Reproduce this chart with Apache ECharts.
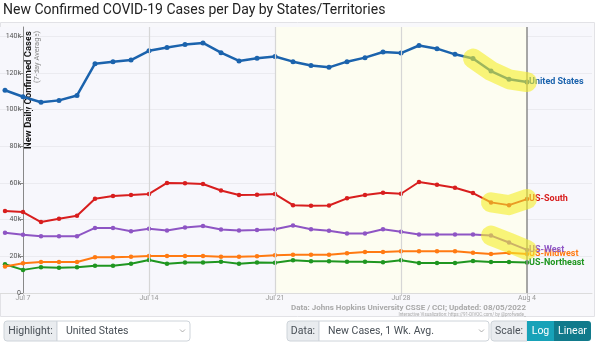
<!DOCTYPE html>
<html><head><meta charset="utf-8">
<script src="https://cdn.jsdelivr.net/npm/echarts@6/dist/echarts.min.js"></script>
<style>html,body{margin:0;padding:0;background:#fff;}#c{width:600px;height:342px;}</style>
</head><body><div id="c"></div>
<script>
// ---- data ----
const dates = ['Jul 6','Jul 7','Jul 8','Jul 9','Jul 10','Jul 11','Jul 12','Jul 13','Jul 14','Jul 15','Jul 16','Jul 17','Jul 18','Jul 19','Jul 20','Jul 21','Jul 22','Jul 23','Jul 24','Jul 25','Jul 26','Jul 27','Jul 28','Jul 29','Jul 30','Jul 31','Aug 1','Aug 2','Aug 3','Aug 4'];
const tickDays = ['Jul 7','Jul 14','Jul 21','Jul 28','Aug 4'];
const yTicks = [0,20000,40000,60000,80000,100000,120000,140000];
const unitedStates = [110500,107000,104000,105000,107700,125000,126000,127000,132000,133800,135400,136300,131000,126500,128000,128900,126100,124000,123000,126100,128300,131400,130800,134900,133200,130100,127800,121000,116500,115000];
const usSouth = [44700,44100,38700,40500,42100,51400,52900,53400,54000,60000,59800,59400,55900,53400,53600,53900,47900,47600,47700,51600,53400,54700,54100,60500,59000,57400,54500,49400,47900,51200];
const usWest = [32800,31700,31000,31000,31000,35500,35500,33700,35000,34100,35700,36500,34600,34100,34400,34800,36800,34800,33900,32400,32400,34800,33400,31900,31900,31900,31900,31300,27500,23500];
const usMidwest = [14400,16200,16900,16900,16900,19500,19500,19700,20200,20200,20200,20200,19800,19700,20000,20600,20900,20900,20900,21700,22400,22400,22800,22800,22800,22800,22000,21300,21900,21200];
const usNortheast = [15700,12600,14100,13700,14100,14900,14800,15900,18000,15900,16600,16600,17100,15900,16600,16500,17900,17300,17300,17100,17100,16800,17900,16400,16400,16400,17500,16900,16900,16600];
const highlightFrom = {'United States': 26, 'US-South': 27, 'US-West': 27};
const seriesDefs = [
  {name:'United States', values: unitedStates, color:'#1b63ad', width:2.5, sym:5},
  {name:'US-South', values: usSouth, color:'#d81e1e', width:2, sym:4.5},
  {name:'US-West', values: usWest, color:'#8e55c4', width:2, sym:4.5},
  {name:'US-Midwest', values: usMidwest, color:'#ff7a12', width:2, sym:4.5},
  {name:'US-Northeast', values: usNortheast, color:'#1f9620', width:2, sym:4.5}
];

const chart = echarts.init(document.getElementById('c'), null, {renderer:'canvas'});
const FONT = 'Roboto, "Liberation Sans", sans-serif';

const series = [];
seriesDefs.slice().reverse().forEach(d => {
  series.push({
    name: d.name, type:'line', z: d.name==='United States'?4:3,
    data: d.values.map((v,i)=>[i,v]),
    symbol:'circle', symbolSize:d.sym, showSymbol:true,
    lineStyle:{color:d.color, width:d.width},
    itemStyle:{color:d.color},
    endLabel:{show:true, formatter:d.name, color:d.color, fontSize:9, fontWeight:'bold', fontFamily:FONT, distance:2},
    emphasis:{disabled:true}, silent:true
  });
});
Object.keys(highlightFrom).forEach(name => {
  const d = seriesDefs.find(s=>s.name===name);
  const from = highlightFrom[name];
  series.push({
    name:'hl-'+name, type:'line', z:6, silent:true,
    data: d.values.map((v,i)=> i>=from ? [i,v] : [i,null]),
    symbol:'none', connectNulls:false,
    lineStyle:{color:'rgba(245,238,40,0.6)', width:20, cap:'round', join:'round'},
    emphasis:{disabled:true}
  });
});
// grid decorations series (vertical lines / shaded area)
series.push({
  name:'deco', type:'line', data:[], silent:true, z:1,
  markArea:{silent:true, itemStyle:{color:'#fdfdf1'}, data:[[{xAxis:dates.indexOf('Jul 21')},{xAxis:dates.indexOf('Aug 4')}]]},
  markLine:{silent:true, symbol:'none', label:{show:false},
    data:[
      {xAxis:dates.indexOf('Jul 14'), lineStyle:{color:'#d6d6d6', width:1.2, type:'solid'}},
      {xAxis:dates.indexOf('Jul 21'), lineStyle:{color:'#d6d6d6', width:1.2, type:'solid'}},
      {xAxis:dates.indexOf('Jul 28'), lineStyle:{color:'#d6d6d6', width:1.2, type:'solid'}},
      {xAxis:dates.indexOf('Aug 4'), lineStyle:{color:'#8a8a8a', width:1.5, type:'solid'}}
    ]}
});

function selectBox(x, w, text) {
  return [
    {type:'rect', shape:{x:x, y:321, width:w, height:20, r:[0,3,3,0]}, style:{fill:'#fff', stroke:'#ced4da', lineWidth:1}},
    {type:'text', x:x+9, y:331, style:{text:text, fill:'#495057', font:'10.5px '+FONT, verticalAlign:'middle'}},
    {type:'polyline', shape:{points:[[x+w-10,329.5],[x+w-7.5,332],[x+w-5,329.5]]}, style:{stroke:'#999', lineWidth:0.8, fill:null}}
  ];
}
function labelBox(x, w, text, r) {
  return [
    {type:'rect', shape:{x:x, y:321, width:w, height:20, r:r}, style:{fill:'#e9ecef', stroke:'#ced4da', lineWidth:1}},
    {type:'text', x:x+w/2, y:331, style:{text:text, fill:'#495057', font:'10.5px '+FONT, align:'center', verticalAlign:'middle'}}
  ];
}

const graphics = [
  {type:'rect', z:-10, shape:{x:0.5, y:22.5, width:594, height:294}, style:{fill:'#f8f8fb', stroke:'#e2e2e6', lineWidth:1}},
  {type:'text', x:3, y:10, style:{text:'New Confirmed COVID-19 Cases per Day by States/Territories', fill:'#222', font:'14px '+FONT, verticalAlign:'middle'}},
  {type:'text', x:29, y:31, rotation:Math.PI/2, style:{text:'New Daily Confirmed Cases', fill:'#111', font:'bold 9.5px '+FONT, align:'right', verticalAlign:'middle'}},
  {type:'text', x:37.5, y:31, rotation:Math.PI/2, style:{text:'(7-day Average)', fill:'#888', font:'7.5px '+FONT, align:'right', verticalAlign:'middle'}},
  {type:'text', x:526, y:308, style:{text:'Data: Johns Hopkins University CSSE / CCI; Updated: 08/05/2022', fill:'#a9a9a9', font:'bold 8px '+FONT, align:'right', verticalAlign:'middle'}},
  {type:'text', x:526, y:314.5, style:{text:'Interactive Visualization: https://91-DIVOC.com/ by @profwade_', fill:'#a9a9a9', font:'4.5px '+FONT, align:'right', verticalAlign:'middle'}}
].concat(
  labelBox(4, 53, 'Highlight:', [3,0,0,3]),
  selectBox(57, 133, 'United States'),
  labelBox(287, 32, 'Data:', [3,0,0,3]),
  selectBox(319, 170, 'New Cases, 1 Wk. Avg.'),
  labelBox(491, 36, 'Scale:', [3,0,0,3]),
  [
    {type:'rect', shape:{x:527, y:321, width:27, height:20}, style:{fill:'#17a2b8'}},
    {type:'text', x:540.5, y:331, style:{text:'Log', fill:'#fff', font:'10.5px '+FONT, align:'center', verticalAlign:'middle'}},
    {type:'rect', shape:{x:554, y:321, width:37, height:20, r:[0,3,3,0]}, style:{fill:'#117a8b'}},
    {type:'text', x:572.5, y:331, style:{text:'Linear', fill:'#fff', font:'10.5px '+FONT, align:'center', verticalAlign:'middle'}}
  ]
);

chart.setOption({
  animation:false,
  textStyle:{fontFamily:FONT},
  grid:{left:0, right:8, top:27, bottom:49, show:true, backgroundColor:'#f7f7fc', borderWidth:0},
  xAxis:{
    type:'value', min:-5/18, max:587/18,
    splitLine:{show:false},
    axisLine:{show:true, lineStyle:{color:'#dcdcdc'}},
    axisTick:{show:true, length:3, lineStyle:{color:'#ccc'}, customValues: tickDays.map(t=>dates.indexOf(t))},
    axisLabel:{fontSize:7, color:'#999', margin:2, customValues: tickDays.map(t=>dates.indexOf(t)), formatter: v => dates[Math.round(v)] || ''}
  },
  yAxis:{
    type:'value', min:0, max:145000, offset:-23,
    axisLine:{show:true, lineStyle:{color:'#888', width:1}},
    axisTick:{show:true, length:3, lineStyle:{color:'#888'}, customValues: yTicks},
    axisLabel:{fontSize:7, color:'#555', margin:2, customValues: yTicks, formatter: v => v===0 ? '0' : (v/1000)+'k'},
    splitLine:{show:true, lineStyle:{color:'#ebebf0', width:1}}
  },
  graphic: graphics,
  series: series
});
</script></body></html>
